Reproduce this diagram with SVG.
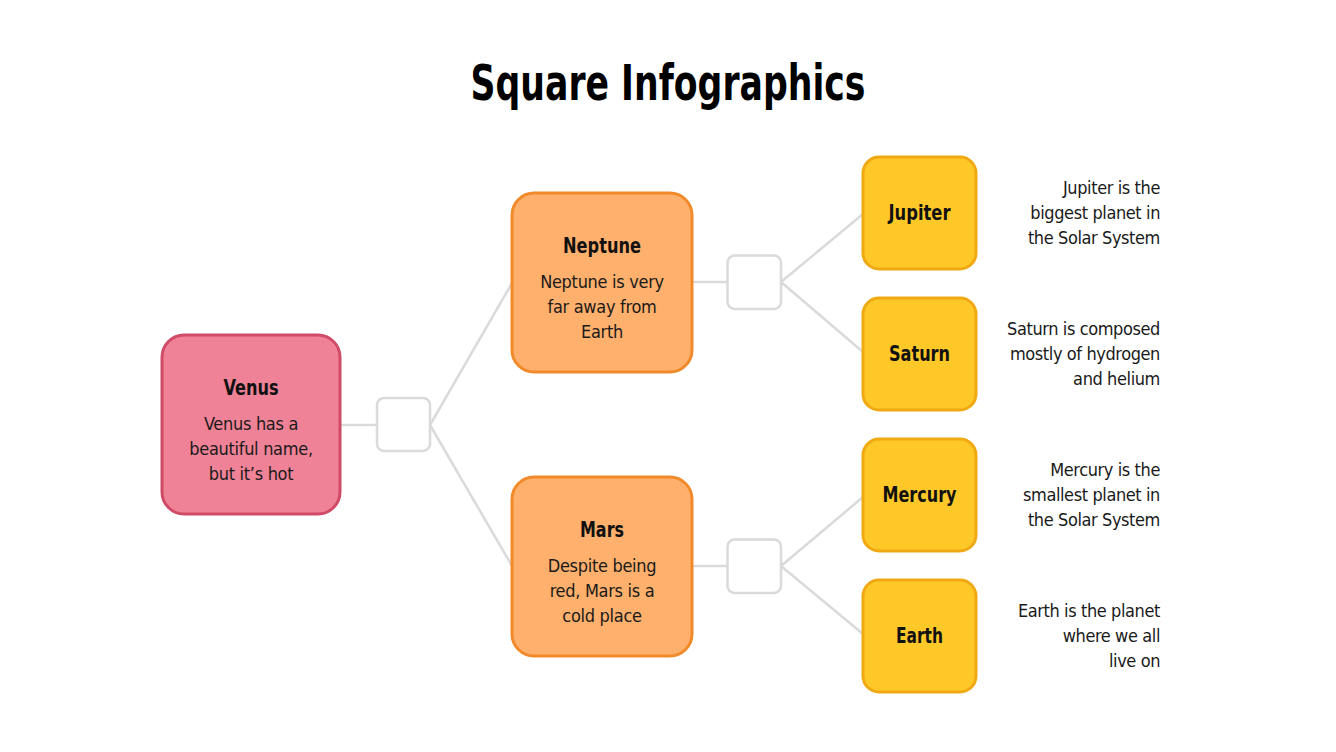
<svg xmlns="http://www.w3.org/2000/svg" width="1336" height="752" viewBox="0 0 1336 752">
<style>
text { font-family: "Liberation Sans Narrow", "DejaVu Sans Condensed", "DejaVu Sans", sans-serif; font-stretch: condensed; fill: #1a1a1a; }
.title { font-size: 50px; font-weight: bold; text-anchor: middle; fill: #000; }
.h { font-size: 21px; font-weight: bold; text-anchor: middle; fill: #111; }
.b { font-size: 18px; text-anchor: middle; letter-spacing: -0.3px; }
.d { font-size: 18px; text-anchor: end; letter-spacing: -0.4px; }
.venus { fill: #f08297; stroke: #cf4b67; stroke-width: 3; }
.orange { fill: #feb06c; stroke: #f08a2a; stroke-width: 3; }
.yellow { fill: #fec829; stroke: #f0a912; stroke-width: 3; }
.hub { fill: #fff; stroke: #dadada; stroke-width: 2.5; }
.conn line { stroke: #dadada; stroke-width: 2.5; }
</style>
<rect width="1336" height="752" fill="#fff"/>
<text class="title" x="668" y="100" textLength="395" lengthAdjust="spacingAndGlyphs">Square Infographics</text>
<g class="conn" id="connectors">
<line x1="340" y1="425" x2="378" y2="425"/>
<line x1="430" y1="425" x2="512" y2="283"/>
<line x1="430" y1="425" x2="512" y2="566"/>
<line x1="692" y1="282" x2="728" y2="282"/>
<line x1="781" y1="282" x2="863" y2="214"/>
<line x1="781" y1="282" x2="863" y2="352"/>
<line x1="692" y1="566" x2="728" y2="566"/>
<line x1="781" y1="566" x2="863" y2="497"/>
<line x1="781" y1="566" x2="863" y2="634"/>
</g>
<g id="hub-venus"><rect class="hub" x="377" y="398" width="53" height="53" rx="7"/></g>
<g id="hub-neptune"><rect class="hub" x="727.5" y="255.5" width="53.5" height="53.5" rx="7"/></g>
<g id="hub-mars"><rect class="hub" x="727.5" y="539.5" width="53.5" height="53.5" rx="7"/></g>
<g id="venus">
<rect class="venus" x="162" y="335" width="178" height="179" rx="22"/>
<text class="h" x="251" y="395" textLength="55" lengthAdjust="spacingAndGlyphs">Venus</text>
<text class="b" x="251" y="430">Venus has a</text>
<text class="b" x="251" y="455">beautiful name,</text>
<text class="b" x="251" y="480">but it’s hot</text>
</g>
<g id="neptune">
<rect class="orange" x="512" y="193" width="180" height="179" rx="22"/>
<text class="h" x="602" y="253" textLength="78" lengthAdjust="spacingAndGlyphs">Neptune</text>
<text class="b" x="602" y="288">Neptune is very</text>
<text class="b" x="602" y="313">far away from</text>
<text class="b" x="602" y="338">Earth</text>
</g>
<g id="mars">
<rect class="orange" x="512" y="477" width="180" height="179" rx="22"/>
<text class="h" x="602" y="537" textLength="44" lengthAdjust="spacingAndGlyphs">Mars</text>
<text class="b" x="602" y="572">Despite being</text>
<text class="b" x="602" y="597">red, Mars is a</text>
<text class="b" x="602" y="622">cold place</text>
</g>
<g id="jupiter">
<rect class="yellow" x="863" y="157" width="113" height="112" rx="16"/>
<text class="h" x="919.5" y="220" textLength="62" lengthAdjust="spacingAndGlyphs">Jupiter</text>
<text class="d" x="1160" y="194">Jupiter is the</text>
<text class="d" x="1160" y="219">biggest planet in</text>
<text class="d" x="1160" y="244">the Solar System</text>
</g>
<g id="saturn">
<rect class="yellow" x="863" y="298" width="113" height="112" rx="16"/>
<text class="h" x="919.5" y="361" textLength="61" lengthAdjust="spacingAndGlyphs">Saturn</text>
<text class="d" x="1160" y="335">Saturn is composed</text>
<text class="d" x="1160" y="360">mostly of hydrogen</text>
<text class="d" x="1160" y="385">and helium</text>
</g>
<g id="mercury">
<rect class="yellow" x="863" y="439" width="113" height="112" rx="16"/>
<text class="h" x="919.5" y="502" textLength="74" lengthAdjust="spacingAndGlyphs">Mercury</text>
<text class="d" x="1160" y="476">Mercury is the</text>
<text class="d" x="1160" y="501">smallest planet in</text>
<text class="d" x="1160" y="526">the Solar System</text>
</g>
<g id="earth">
<rect class="yellow" x="863" y="580" width="113" height="112" rx="16"/>
<text class="h" x="919.5" y="643" textLength="47" lengthAdjust="spacingAndGlyphs">Earth</text>
<text class="d" x="1160" y="617">Earth is the planet</text>
<text class="d" x="1160" y="642">where we all</text>
<text class="d" x="1160" y="667">live on</text>
</g>
</svg>
